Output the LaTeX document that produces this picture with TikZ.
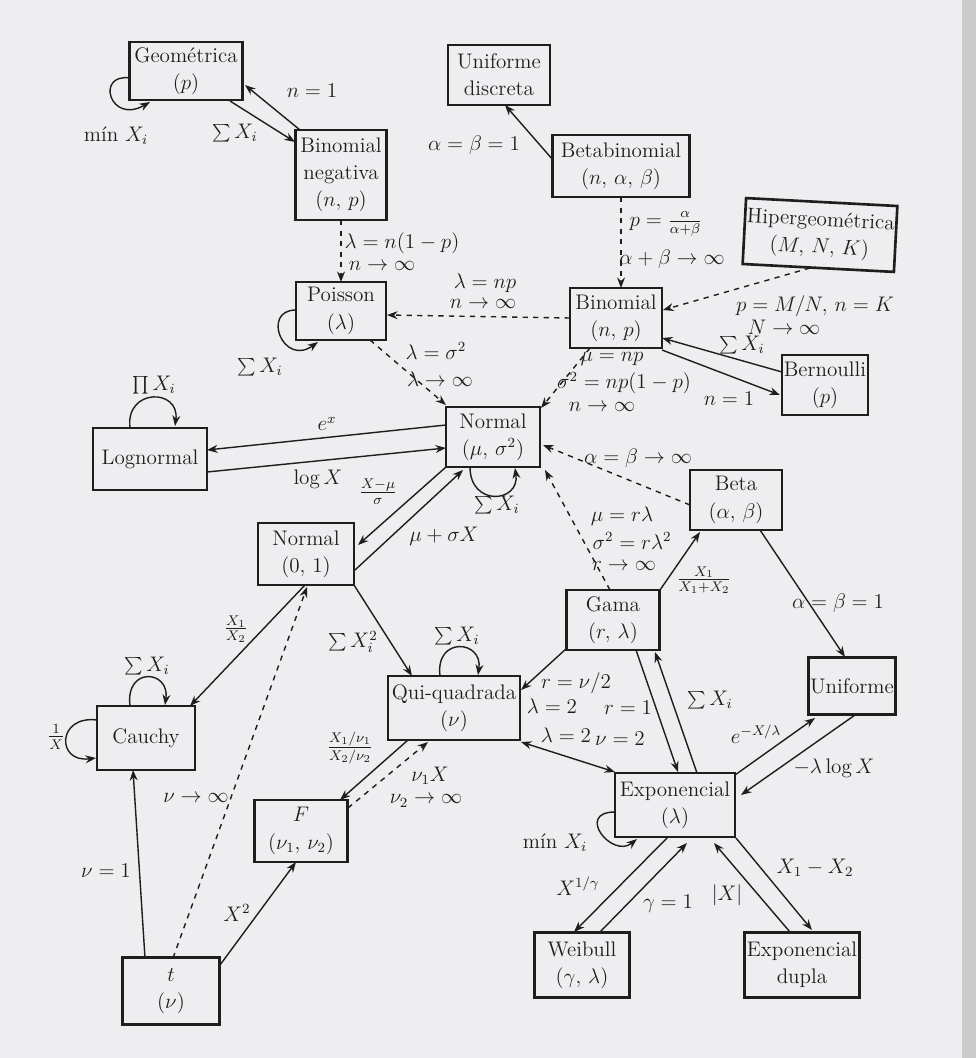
\documentclass[tikz,border=0pt]{standalone}
\usetikzlibrary{arrows.meta}
\definecolor{bgc}{RGB}{238,238,240}
\definecolor{ink}{RGB}{30,30,30}
\begin{document}
\begin{tikzpicture}[x=0.02cm,y=-0.02cm,
  box/.style={draw=ink,line width=1.5pt,align=center,inner sep=1pt,font=\fontsize{12}{15.5}\selectfont,text=ink},
  lab/.style={font=\fontsize{12}{14}\selectfont,text=ink,inner sep=1pt,align=center},
  arr/.style={draw=ink,line width=0.8pt,-{Stealth[length=6pt,width=4.5pt]}},
  dsh/.style={arr,dashed}]
\fill[bgc] (0,0) rectangle (976,1058);
\fill[gray!40] (962,0) rectangle (976,1058);
\useasboundingbox (0,0) rectangle (976,1058);
% nodes
\node[box,minimum width=2.26cm,minimum height=1.16cm] (geo) at (186,71) {Geométrica\\$(p)$};
\node[box,minimum width=2.04cm,minimum height=1.2cm] (ud) at (499,75) {Uniforme\\discreta};
\node[box,minimum width=1.82cm,minimum height=1.8cm] (bn) at (341,175) {Binomial\\negativa\\$(n,\,p)$};
\node[box,minimum width=2.74cm,minimum height=1.24cm] (bb) at (621,166) {Betabinomial\\$(n,\,\alpha,\,\beta)$};
\node[box,minimum width=3.0cm,minimum height=1.32cm,rotate=-3] (hg) at (820,235) {Hipergeométrica\\$(M,\,N,\,K)$};
\node[box,minimum width=1.8cm,minimum height=1.16cm] (poi) at (341,311) {Poisson\\$(\lambda)$};
\node[box,minimum width=1.84cm,minimum height=1.2cm] (bin) at (616,318) {Binomial\\$(n,\,p)$};
\node[box,minimum width=1.72cm,minimum height=1.2cm] (ber) at (825,385) {Bernoulli\\$(p)$};
\node[box,minimum width=2.28cm,minimum height=1.24cm] (logn) at (150,459) {Lognormal};
\node[box,minimum width=1.88cm,minimum height=1.2cm] (nor) at (493,437) {Normal\\$(\mu,\,\sigma^2)$};
\node[box,minimum width=1.84cm,minimum height=1.2cm] (beta) at (736,500) {Beta\\$(\alpha,\,\beta)$};
\node[box,minimum width=1.92cm,minimum height=1.24cm] (n01) at (306,554) {Normal\\$(0,\,1)$};
\node[box,minimum width=1.86cm,minimum height=1.2cm] (gam) at (613,620) {Gama\\$(r,\,\lambda)$};
\node[box,minimum width=2.64cm,minimum height=1.28cm] (qui) at (454,708) {Qui-quadrada\\$(\nu)$};
\node[box,minimum width=1.7cm,minimum height=1.14cm] (uni) at (852,686) {Uniforme};
\node[box,minimum width=1.96cm,minimum height=1.28cm] (cau) at (146,738) {Cauchy};
\node[box,minimum width=1.86cm,minimum height=1.24cm] (F) at (301,831) {$F$\\$(\nu_1,\,\nu_2)$};
\node[box,minimum width=2.4cm,minimum height=1.28cm] (exp) at (675,805) {Exponencial\\$(\lambda)$};
\node[box,minimum width=1.9cm,minimum height=1.3cm] (wei) at (582,965) {Weibull\\$(\gamma,\,\lambda)$};
\node[box,minimum width=2.3cm,minimum height=1.3cm] (ed) at (802,965) {Exponencial\\dupla};
\node[box,minimum width=1.94cm,minimum height=1.34cm] (t) at (171,991) {$t$\\$(\nu)$};
% edges
\draw[arr] ([shift={(-41,-45)}]bn.center) -- ([shift={(59,14)}]geo.center);
\draw[arr] ([shift={(44,30)}]geo.center) -- ([shift={(-46,-33)}]bn.center);
\draw[arr] ([shift={(-56,7)}]geo.center) .. controls +(-35,-5) and +(-40,23) .. ([shift={(-36,31)}]geo.center);
\draw[arr] ([shift={(-68,-6)}]bb.center) -- ([shift={(6,30)}]ud.center);
\draw[dsh] ([shift={(0,31)}]bb.center) -- ([shift={(5,-30)}]bin.center);
\draw[dsh] ([shift={(0,45)}]bn.center) -- ([shift={(0,-29)}]poi.center);
\draw[dsh] ([shift={(-10,33)}]hg.center) -- ([shift={(47,-8)}]bin.center);
\draw[dsh] ([shift={(-46,0)}]bin.center) -- ([shift={(46,4)}]poi.center);
\draw[arr] ([shift={(-43,-13)}]ber.center) -- ([shift={(46,20)}]bin.center);
\draw[arr] ([shift={(46,32)}]bin.center) -- ([shift={(-45,10)}]ber.center);
\draw[arr] ([shift={(-45,-1)}]poi.center) .. controls +(-35,0) and +(-35,25) .. ([shift={(-23,31)}]poi.center);
\draw[dsh] ([shift={(29,29)}]poi.center) -- ([shift={(-47,-32)}]nor.center);
\draw[dsh] ([shift={(-26,30)}]bin.center) -- ([shift={(48,-29)}]nor.center);
\draw[arr] ([shift={(-47,-12)}]nor.center) -- ([shift={(57,-9)}]logn.center);
\draw[arr] ([shift={(57,13)}]logn.center) -- ([shift={(-47,11)}]nor.center);
\draw[arr] ([shift={(-20,-31)}]logn.center) .. controls +(-5,-40) and +(5,-38) .. ([shift={(25,-33)}]logn.center);
\draw[dsh] ([shift={(-46,5)}]beta.center) -- ([shift={(50,8)}]nor.center);
\draw[arr] ([shift={(-47,30)}]nor.center) -- ([shift={(52,-9)}]n01.center);
\draw[arr] ([shift={(49,16)}]n01.center) -- ([shift={(-30,33)}]nor.center);
\draw[arr] ([shift={(-23,30)}]nor.center) .. controls +(0,40) and +(5,35) .. ([shift={(22,31)}]nor.center);
\draw[dsh] ([shift={(-3,-30)}]gam.center) -- ([shift={(52,33)}]nor.center);
\draw[arr] ([shift={(47,-30)}]gam.center) -- ([shift={(-36,32)}]beta.center);
\draw[arr] ([shift={(24,30)}]beta.center) -- ([shift={(-7,-29)}]uni.center);
\draw[arr] ([shift={(-1,31)}]n01.center) -- ([shift={(44,-32)}]cau.center);
\draw[arr] ([shift={(48,31)}]n01.center) -- ([shift={(-42,-32)}]qui.center);
\draw[arr] ([shift={(-14,-32)}]qui.center) .. controls +(-5,-40) and +(5,-35) .. ([shift={(24,-33)}]qui.center);
\draw[arr] ([shift={(-46,28)}]gam.center) -- ([shift={(67,-18)}]qui.center);
\draw[arr,{Stealth[length=6pt,width=4.5pt]}-{Stealth[length=6pt,width=4.5pt]}] ([shift={(67,34)}]qui.center) -- ([shift={(-60,-33)}]exp.center);
\draw[arr] ([shift={(23,30)}]gam.center) -- ([shift={(3,-33)}]exp.center);
\draw[arr] ([shift={(22,-32)}]exp.center) -- ([shift={(42,32)}]gam.center);
\draw[arr] ([shift={(60,-30)}]exp.center) -- ([shift={(-37,32)}]uni.center);
\draw[arr] ([shift={(3,29)}]uni.center) -- ([shift={(66,-10)}]exp.center);
\draw[arr] ([shift={(-60,7)}]exp.center) .. controls +(-40,0) and +(-25,20) .. ([shift={(-38,34)}]exp.center);
\draw[arr] ([shift={(-8,33)}]exp.center) -- ([shift={(-8,-33)}]wei.center);
\draw[arr] ([shift={(18,-33)}]wei.center) -- ([shift={(12,38)}]exp.center);
\draw[arr] ([shift={(-12,-33)}]ed.center) -- ([shift={(39,38)}]exp.center);
\draw[arr] ([shift={(61,33)}]exp.center) -- ([shift={(10,-35)}]ed.center);
\draw[arr] ([shift={(-46,32)}]qui.center) -- ([shift={(39,-31)}]F.center);
\draw[dsh] ([shift={(47,-23)}]F.center) -- ([shift={(-26,34)}]qui.center);
\draw[arr] ([shift={(-16,-32)}]cau.center) .. controls +(-5,-40) and +(5,-35) .. ([shift={(19,-33)}]cau.center);
\draw[arr] ([shift={(-49,-18)}]cau.center) .. controls +(-40,-5) and +(-40,5) .. ([shift={(-50,20)}]cau.center);
\draw[arr] ([shift={(-26,-33)}]t.center) -- ([shift={(-13,32)}]cau.center);
\draw[dsh] ([shift={(2,-33)}]t.center) -- ([shift={(1,33)}]n01.center);
\draw[arr] ([shift={(49,-26)}]t.center) -- ([shift={(-5,31)}]F.center);
% labels
\node[lab] (l1) at (312,91) {$n=1$};
\node[lab] (l2) at (235,133) {$\sum X_i$};
\node[lab] (l3) at (116,136) {mín $X_i$};
\node[lab] (l4) at (474,145) {$\alpha=\beta=1$};
\node[lab] (l5) at (666,224) {$p=\frac{\alpha}{\alpha+\beta}$};
\node[lab] (l6) at (672,259) {$\alpha+\beta\to\infty$};
\node[lab] (l7) at (402,243) {$\lambda=n(1-p)$};
\node[lab] (l8) at (382,266) {$n\to\infty$};
\node[lab] (l9) at (815,306) {$p=M/N,\,n=K$};
\node[lab] (l10) at (784,327) {$N\to\infty$};
\node[lab] (l11) at (485,283) {$\lambda=np$};
\node[lab] (l12) at (483,304) {$n\to\infty$};
\node[lab] (l13) at (742,345) {$\sum X_i$};
\node[lab] (l14) at (729,399) {$n=1$};
\node[lab] (l15) at (260,367) {$\sum X_i$};
\node[lab] (l16) at (436,351) {$\lambda=\sigma^2$};
\node[lab] (l17) at (440,379) {$\lambda\to\infty$};
\node[lab] (l18) at (612,359) {$\mu=np$};
\node[lab] (l19) at (624,383) {$\sigma^2=np(1-p)$};
\node[lab] (l20) at (602,407) {$n\to\infty$};
\node[lab] (l21) at (154,385) {$\prod X_i$};
\node[lab] (l22) at (327,424) {$e^x$};
\node[lab] (l23) at (318,479) {$\log X$};
\node[lab] (l24) at (638,458) {$\alpha=\beta\to\infty$};
\node[lab] (l25) at (378,492) {$\frac{X-\mu}{\sigma}$};
\node[lab] (l26) at (444,536) {$\mu+\sigma X$};
\node[lab] (l27) at (497,505) {$\sum X_i$};
\node[lab] (l28) at (622,516) {$\mu=r\lambda$};
\node[lab] (l29) at (632,541) {$\sigma^2=r\lambda^2$};
\node[lab] (l30) at (624,566) {$r\to\infty$};
\node[lab] (l31) at (704,580) {$\frac{X_1}{X_1+X_2}$};
\node[lab] (l32) at (838,603) {$\alpha=\beta=1$};
\node[lab] (l33) at (236,629) {$\frac{X_1}{X_2}$};
\node[lab] (l34) at (353,642) {$\sum X_i^2$};
\node[lab] (l35) at (457,636) {$\sum X_i$};
\node[lab] (l36) at (576,683) {$r=\nu/2$};
\node[lab] (l37) at (552,706) {$\lambda=2$};
\node[lab] (l38) at (628,708) {$r=1$};
\node[lab] (l39) at (710,700) {$\sum X_i$};
\node[lab] (l40) at (566,735) {$\lambda=2$};
\node[lab] (l41) at (620,739) {$\nu=2$};
\node[lab] (l42) at (756,734) {$e^{-X/\lambda}$};
\node[lab] (l43) at (834,768) {$-\lambda\log X$};
\node[lab] (l44) at (555,843) {mín $X_i$};
\node[lab] (l45) at (578,886) {$X^{1/\gamma}$};
\node[lab] (l46) at (668,904) {$\gamma=1$};
\node[lab] (l47) at (727,895) {$|X|$};
\node[lab] (l48) at (815,868) {$X_1-X_2$};
\node[lab] (l49) at (350,748) {$\frac{X_1/\nu_1}{X_2/\nu_2}$};
\node[lab] (l50) at (430,776) {$\nu_1X$};
\node[lab] (l51) at (426,801) {$\nu_2\to\infty$};
\node[lab] (l52) at (147,666) {$\sum X_i$};
\node[lab] (l53) at (56,737) {$\frac{1}{X}$};
\node[lab] (l54) at (106,871) {$\nu=1$};
\node[lab] (l55) at (196,798) {$\nu\to\infty$};
\node[lab] (l56) at (237,913) {$X^2$};
\end{tikzpicture}
\end{document}
